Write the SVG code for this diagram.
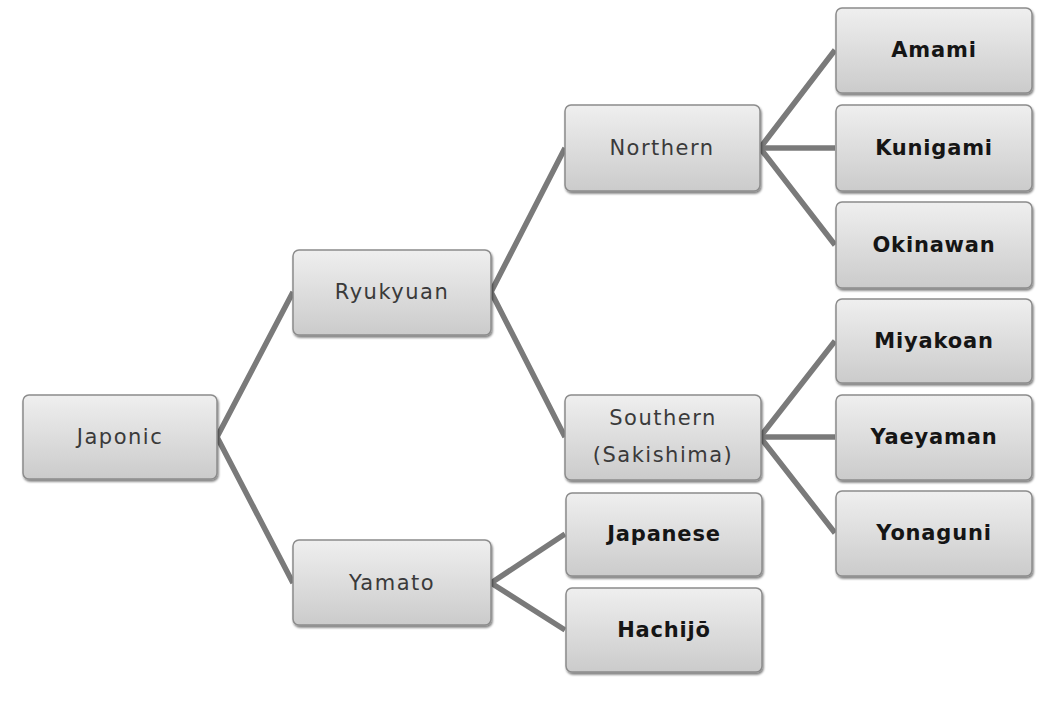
<svg xmlns="http://www.w3.org/2000/svg" width="1044" height="723" viewBox="0 0 1044 723">
<style>
.box{fill:url(#g);stroke:#8c8c8c;stroke-width:1.5;filter:url(#sh)}
.t{font-family:"DejaVu Sans",sans-serif;font-size:21px;fill:#3a3a3a;text-anchor:middle;dominant-baseline:central;letter-spacing:1.5px}
.b{font-family:"DejaVu Sans",sans-serif;font-size:21px;font-weight:bold;fill:#151515;text-anchor:middle;dominant-baseline:central;letter-spacing:0.8px}
.c{fill:none;stroke:#7a7a7a;stroke-width:5.5;stroke-linejoin:round}
</style>
<defs>
<linearGradient id="g" x1="0" y1="0" x2="0" y2="1">
<stop offset="0" stop-color="#efefef"/>
<stop offset="1" stop-color="#cbcbcb"/>
</linearGradient>
<filter id="sh" x="-10%" y="-10%" width="120%" height="130%">
<feDropShadow dx="1" dy="2" stdDeviation="1.2" flood-color="#000" flood-opacity="0.5"/>
</filter>
</defs>
<rect width="1044" height="723" fill="#fff"/>
<g id="connectors">
<polyline class="c" points="293,292 217,437 293,583"/>
<polyline class="c" points="565,148 491,292 565,437"/>
<polyline class="c" points="835,50 760,148 835,245"/>
<line class="c" x1="760" y1="148" x2="835" y2="148"/>
<polyline class="c" points="835,341 760,437 835,533"/>
<line class="c" x1="760" y1="437" x2="835" y2="437"/>
<polyline class="c" points="565,534 491,583 565,630"/>
</g>
<g id="japonic"><rect class="box" x="23" y="395" width="194" height="84" rx="6"/><text class="t" x="120" y="437">Japonic</text></g>
<g id="ryukyuan"><rect class="box" x="293" y="250" width="198" height="85" rx="6"/><text class="t" x="392" y="292">Ryukyuan</text></g>
<g id="yamato"><rect class="box" x="293" y="540" width="198" height="85" rx="6"/><text class="t" x="392" y="583">Yamato</text></g>
<g id="northern"><rect class="box" x="565" y="105" width="195" height="86" rx="6"/><text class="t" x="662" y="148">Northern</text></g>
<g id="southern"><rect class="box" x="565" y="395" width="196" height="85" rx="6"/><text class="t" x="663" y="418">Southern</text><text class="t" x="663" y="455">(Sakishima)</text></g>
<g id="japanese"><rect class="box" x="566" y="493" width="196" height="83" rx="6"/><text class="b" x="664" y="534">Japanese</text></g>
<g id="hachijo"><rect class="box" x="566" y="588" width="196" height="84" rx="6"/><text class="b" x="664" y="630">Hachijō</text></g>
<g id="amami"><rect class="box" x="836" y="8" width="196" height="85" rx="6"/><text class="b" x="934" y="50">Amami</text></g>
<g id="kunigami"><rect class="box" x="836" y="105" width="196" height="86" rx="6"/><text class="b" x="934" y="148">Kunigami</text></g>
<g id="okinawan"><rect class="box" x="836" y="202" width="196" height="86" rx="6"/><text class="b" x="934" y="245">Okinawan</text></g>
<g id="miyakoan"><rect class="box" x="836" y="299" width="196" height="84" rx="6"/><text class="b" x="934" y="341">Miyakoan</text></g>
<g id="yaeyaman"><rect class="box" x="836" y="395" width="196" height="85" rx="6"/><text class="b" x="934" y="437">Yaeyaman</text></g>
<g id="yonaguni"><rect class="box" x="836" y="491" width="196" height="85" rx="6"/><text class="b" x="934" y="533">Yonaguni</text></g>
</svg>
